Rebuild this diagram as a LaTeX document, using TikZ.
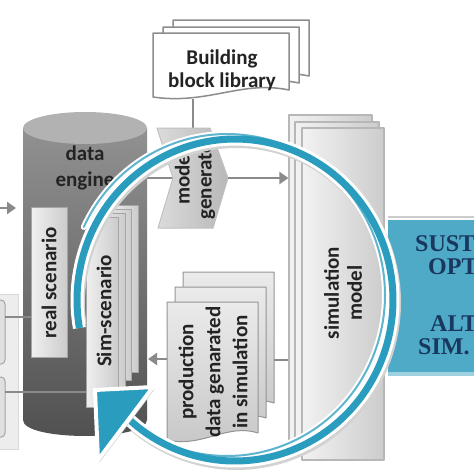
\documentclass[tikz,border=0pt]{standalone}
\usepackage{fontspec}
\setmainfont{Carlito}
\newfontfamily\boxserif{Liberation Serif}
\usetikzlibrary{arrows.meta,calc}
\definecolor{ringc}{RGB}{42,156,190}
\definecolor{boxc}{RGB}{78,170,198}
\definecolor{navy}{RGB}{25,55,95}
\definecolor{connc}{RGB}{138,138,138}
\definecolor{edgec}{RGB}{165,165,165}
\definecolor{txtc}{RGB}{35,35,35}
\definecolor{cyltopc}{RGB}{178,178,178}
\definecolor{cylhi}{RGB}{145,145,145}
\definecolor{cyllo}{RGB}{80,80,80}
\begin{document}
\begin{tikzpicture}[x=1pt,y=-1pt,line join=round,
  lbl/.style={font=\fontsize{21}{23}\selectfont\bfseries, text=txtc, align=center, inner sep=0pt},
  panel/.style={draw=edgec, line width=1pt, left color=white!94!black, right color=white!80!black, inner sep=0pt},
  simpanel/.style={draw=edgec!80!white, line width=1.2pt, left color=white!95!black, right color=white!80!black, inner sep=0pt},
  lbox/.style={draw=edgec, line width=1pt, fill=white!88!black, inner sep=0pt},
  libdoc/.style={draw=edgec!85!black, line width=1.5pt, fill=white},
  pdoc/.style={draw=edgec!90!black, line width=1pt, top color=white!92!black, bottom color=white!78!black},
  genfill/.style={draw=edgec!70!white, line width=1pt, left color=white!86!black, right color=white!72!black},
  conn/.style={draw=connc, line width=2.6pt},
  thinconn/.style={draw=connc, line width=2pt},
  carrow/.style={conn, -{Triangle[length=9pt,width=12pt]}},
  boxtxt/.style={font=\boxserif\bfseries\fontsize{24}{24}\selectfont, text=navy, inner sep=0pt, anchor=west},
  mydoc/.style n args={4}{insert path={(#1,#2) -- (#3,#2) -- (#3,{#4-7}) .. controls ({#3-0.35*(#3-#1)},{#4-17}) and ({#1+0.4*(#3-#1)},{#4+8}) .. (#1,#4) -- cycle}},
]
\useasboundingbox (0,0) rectangle (474,474);
\clip (0,0) rectangle (474,474);
\fill[white] (0,0) rectangle (474,474);

% building block library
\draw[libdoc, mydoc={173}{20}{309}{83}];
\draw[libdoc, mydoc={163}{27}{299}{90}];
\draw[libdoc, mydoc={153}{33}{289}{97}];
\node[lbl] (lib) at (222,70) {Building\\block library};
\coordinate (libb) at (193,99);

% data engine cylinder
\path[top color=cylhi, bottom color=cyllo] (23,128) -- (23,420) .. controls (23,441.3) and (147,441.3) .. (147,420) -- (147,128) -- cycle;
\fill[cyltopc] (85,128) ellipse [x radius=62, y radius=16];
\node[lbl, font=\fontsize{21}{26}\selectfont\bfseries] (eng) at (85,168) {data\\engine};
\coordinate (cylR) at (147,178);
\coordinate (cylL) at (16,208);
\coordinate (inL) at (-5,208);
\coordinate (cylR2) at (148,359);

% left panel and boxes
\node[lbox, fill=white!93!black, draw=white!85!black, minimum width=40pt, minimum height=155pt] (lpan) at (-2,372) {};
\node[lbox, rounded corners=4pt, minimum width=30pt, minimum height=64pt] (lb1) at (-10,332) {};
\node[lbox, rounded corners=4pt, minimum width=30pt, minimum height=60pt] (lb2) at (-10,407) {};

% real scenario
\node[panel, minimum width=36pt, minimum height=150pt] (real) at (49,282) {};
\node[lbl, rotate=90] (realt) at (49,283) {real scenario};

% sim-scenario stack
\node[panel, minimum width=31pt, minimum height=167pt] (ss3) at (122.5,288.5) {};
\node[panel, minimum width=31pt, minimum height=171pt] (ss2) at (115.5,294.5) {};
\node[panel, minimum width=32pt, minimum height=175pt] (ss1) at (109,300.5) {};
\node[panel, minimum width=32pt, minimum height=190pt] (ssf) at (102,312) {};
\node[lbl, rotate=90] (sst) at (104,311) {Sim-scenario};

\coordinate (lb1p) at (5,317);
\coordinate (lb2p) at (5,392);
\draw[thinconn] (lb1p) -- (lb1p -| real.west);
\draw[thinconn] (lb2p) -- (lb2p -| ssf.west);

% model generator
\coordinate (gentop) at (193,128);
\coordinate (gentip) at (228,178);
\coordinate (gennotch) at (175,178);
\draw[conn] (libb) -- (gentop);
\draw[conn] (cylR) -- (gennotch);
\path[genfill] (157,128) -- (210,128) -- (gentip) -- (213,228) -- (158,228) -- (173,178) -- cycle;
\node[lbl, rotate=90, font=\fontsize{21}{22}\selectfont\bfseries] (gent) at (195,177) {model\\generator};

% simulation model stack
\node[simpanel, minimum width=83pt, minimum height=325pt] (sm2) at (330.5,277.5) {};
\node[simpanel, minimum width=84pt, minimum height=328pt] (sm1) at (337,286) {};
\node[simpanel, minimum width=82pt, minimum height=332pt] (smf) at (343,294) {};
\node[lbl, rotate=90] (smt) at (343,293) {simulation\\model};

% production data documents
\draw[pdoc, mydoc={183}{272}{274}{410}];
\draw[pdoc, mydoc={175}{287}{266}{425}];
\draw[pdoc, mydoc={167}{302}{258}{440}];
\node[lbl, rotate=90, font=\fontsize{21}{27}\selectfont\bfseries] (prodt) at (213,372) {production\\data genarated\\in simulation};
\coordinate (prodL) at (167,359);
\coordinate (prodR) at (274,360);

% connectors
\draw[carrow] (gentip) -- (gentip -| sm2.west);
\draw[carrow] (inL) -- (cylL);
\draw[carrow] (prodL) -- (cylR2);
\draw[conn] (prodR) -- (prodR -| sm2.west);

% teal box
\draw[white!80!black, line width=2pt] (388,217) -- (480,217);
\node[fill=boxc, minimum width=92pt, minimum height=154pt, inner sep=0pt] (tbox) at (434,297) {};
\fill[boxc!55!white] (388,372) rectangle (480,376);
\node[boxtxt] (t1) at (415,244) {SUST};
\node[boxtxt] (t2) at (428,267) {OPT};
\node[boxtxt] (t3) at (430,324) {ALT};
\node[boxtxt] (t4) at (418,347) {SIM.};

% cycle arrow
\coordinate (tipA) at (95,390);
\coordinate (tipB) at (153,387);
\coordinate (tipC) at (98,460);
\draw[gray!35, line width=13pt, line cap=butt] plot[domain=172:490, samples=160] ({236.5+158*cos(\x)},{302.5+161*sin(\x)});
\draw[white, line width=13pt, line cap=butt] plot[domain=170:492, samples=160] ({235+158*cos(\x)},{300+161*sin(\x)});
\draw[white, line width=6pt, line cap=round] plot[domain=205:480, samples=140] ({227+158*cos(\x)},{295+161*sin(\x)});
\draw[ringc!75!white, line width=2pt, line cap=round] plot[domain=205:480, samples=140] ({227+158*cos(\x)},{295+161*sin(\x)});
\draw[ringc, line width=7pt, line cap=butt] plot[domain=170:494, samples=160] ({235+158*cos(\x)},{300+161*sin(\x)});
\fill[gray!35] ($(tipA)+(1.5,2.5)$) -- ($(tipB)+(1.5,2.5)$) -- ($(tipC)+(1.5,2.5)$) -- cycle;
\filldraw[fill=ringc, draw=white, line width=4pt, line join=miter] (tipA) -- (tipB) -- (tipC) -- cycle;
\end{tikzpicture}
\end{document}
